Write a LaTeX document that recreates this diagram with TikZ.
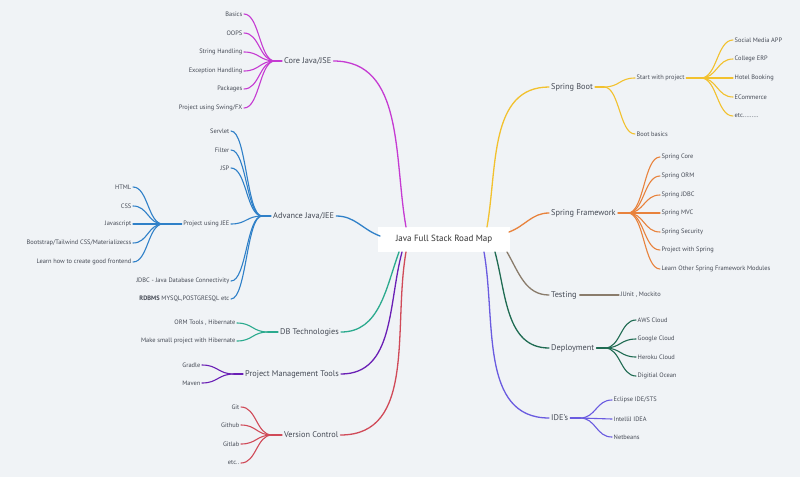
\documentclass[tikz,border=0pt]{standalone}
\usepackage{fontspec}
\setmainfont{PT Sans}
\usetikzlibrary{calc}
\definecolor{bg}{HTML}{F0F3F6}
\definecolor{tx}{HTML}{454A55}
\definecolor{cmag}{HTML}{C53AD2}
\definecolor{cblue}{HTML}{2F80C8}
\definecolor{cteal}{HTML}{2BAA8E}
\definecolor{cpur}{HTML}{6A1FB5}
\definecolor{cred}{HTML}{D04A58}
\definecolor{cyel}{HTML}{F2C12E}
\definecolor{cora}{HTML}{E8823C}
\definecolor{cbrn}{HTML}{8A7C6C}
\definecolor{cgrn}{HTML}{1F6B52}
\definecolor{cvio}{HTML}{6A5BE0}
\tikzset{
  leaf/.style={font=\fontsize{6.4}{7.5}\selectfont, text=tx, inner sep=1.5pt},
  mainn/.style={font=\fontsize{8.3}{9.5}\selectfont, text=tx, inner sep=2pt},
  br/.style={line width=1.1pt, line cap=round},
  mb/.style={line width=1.3pt, line cap=round},
  hc/.style={to path={let \p1=(\tikztostart), \p2=(\tikztotarget) in
     .. controls (\x1/2+\x2/2,\y1) and (\x1/2+\x2/2,\y2) .. (\tikztotarget)}},
}
\newcommand{\lleaf}[6]{% name, x(right end), y, text, hub, color
  \node[leaf,anchor=east] (#1) at (#2,#3) {#4};
  \draw[br,#6] (#1.east) to[hc] (#5);}
\newcommand{\rleaf}[6]{% name, x(left end), y, text, hub, color
  \node[leaf,anchor=west] (#1) at (#2,#3) {#4};
  \draw[br,#6] (#5) to[hc] (#1.west);}
\begin{document}
\begin{tikzpicture}[x=1pt,y=-1pt]
\useasboundingbox (0,0) rectangle (800,477);
\fill[bg] (0,0) rectangle (800,477);
% root
\node[fill=white, font=\fontsize{9}{11}\selectfont, text=black!80, minimum width=132pt, minimum height=25pt, inner sep=2pt] (root) at (444,239) {Java Full Stack Road Map};
\coordinate (rL1) at (406,227);
\coordinate (rL2) at (380,236);
\coordinate (rL3) at (399,252);
\coordinate (rL4) at (402,252);
\coordinate (rL5) at (406,252);
\coordinate (rR1) at (487,227);
\coordinate (rR2) at (509,232);
\coordinate (rR3) at (507,252);
\coordinate (rR4) at (495,252);
\coordinate (rR5) at (484,252);
% ===== Core Java
\node[mainn,anchor=west] (core) at (282,61) {Core Java/JSE};
\coordinate (hcore) at (275,61);
\draw[mb,cmag] (hcore) -- (core.west);
\draw[mb,cmag] (core.east) to[out=0,in=100] (rL1);
\lleaf{c1}{244}{14}{Basics}{hcore}{cmag}
\lleaf{c2}{244}{33}{OOPS}{hcore}{cmag}
\lleaf{c3}{244}{52}{String Handling}{hcore}{cmag}
\lleaf{c4}{244}{71}{Exception Handling}{hcore}{cmag}
\lleaf{c5}{244}{89}{Packages}{hcore}{cmag}
\lleaf{c6}{244}{108}{Project using Swing/FX}{hcore}{cmag}
% ===== Advance Java
\node[mainn,anchor=west] (adv) at (271,216) {Advance Java/JEE};
\coordinate (hadv) at (262,216);
\draw[mb,cblue] (hadv) -- (adv.west);
\draw[mb,cblue] (adv.east) to[out=0,in=160] (rL2);
\lleaf{a1}{231}{131}{Servlet}{hadv}{cblue}
\lleaf{a2}{231}{150}{Filter}{hadv}{cblue}
\lleaf{a3}{231}{168}{JSP}{hadv}{cblue}
\lleaf{a4}{231}{224}{Project using JEE}{hadv}{cblue}
\lleaf{a5}{231}{281}{JDBC - Java Database Connectivity}{hadv}{cblue}
\lleaf{a6}{231}{299}{\textbf{RDBMS} MYSQL,POSTGRESQL etc}{hadv}{cblue}
\coordinate (hpj) at (163,224);
\draw[br,cblue] (hpj) -- (a4.west);
\lleaf{p1}{133}{187}{HTML}{hpj}{cblue}
\lleaf{p2}{133}{206}{CSS}{hpj}{cblue}
\lleaf{p3}{133}{224}{Javascript}{hpj}{cblue}
\lleaf{p4}{133}{243}{Bootstrap/Tailwind CSS/Materializecss}{hpj}{cblue}
\lleaf{p5}{133}{262}{Learn how to create good frontend}{hpj}{cblue}
% ===== DB
\node[mainn,anchor=west] (db) at (278,332) {DB Technologies};
\coordinate (hdb) at (268,332);
\draw[mb,cteal] (hdb) -- (db.west);
\draw[mb,cteal] (db.east) to[out=0,in=-110] (rL3);
\lleaf{d1}{237}{323}{ORM Tools , Hibernate}{hdb}{cteal}
\lleaf{d2}{237}{341}{Make small project with Hibernate}{hdb}{cteal}
% ===== PM tools
\node[mainn,anchor=west] (pm) at (243,374) {Project Management Tools};
\coordinate (hpm) at (234,374);
\draw[mb,cpur] (hpm) -- (pm.west);
\draw[mb,cpur] (pm.east) to[out=0,in=-105] (rL4);
\lleaf{m1}{202}{365}{Gradle}{hpm}{cpur}
\lleaf{m2}{202}{383}{Maven}{hpm}{cpur}
% ===== Version control
\node[mainn,anchor=west] (vc) at (282,435) {Version Control};
\coordinate (hvc) at (272,435);
\draw[mb,cred] (hvc) -- (vc.west);
\draw[mb,cred] (vc.east) to[out=0,in=-100] (rL5);
\lleaf{v1}{241}{407}{Git}{hvc}{cred}
\lleaf{v2}{241}{425}{Github}{hvc}{cred}
\lleaf{v3}{241}{444}{Gitlab}{hvc}{cred}
\lleaf{v4}{241}{463}{etc..}{hvc}{cred}
% ===== Spring Boot
\node[mainn,anchor=west] (sb) at (549,87) {Spring Boot};
\coordinate (hsb) at (604,87);
\draw[mb,cyel] (rR1) to[out=80,in=180] (sb.west);
\draw[mb,cyel] (sb.east) -- (hsb);
\rleaf{s1}{635}{78}{Start with project}{hsb}{cyel}
\rleaf{s2}{635}{134}{Boot basics}{hsb}{cyel}
\coordinate (hsp) at (701,78);
\draw[br,cyel] (s1.east) -- (hsp);
\rleaf{q1}{733}{40}{Social Media APP}{hsp}{cyel}
\rleaf{q2}{733}{59}{College ERP}{hsp}{cyel}
\rleaf{q3}{733}{78}{Hotel Booking}{hsp}{cyel}
\rleaf{q4}{733}{97}{ECommerce}{hsp}{cyel}
\rleaf{q5}{733}{116}{etc.........}{hsp}{cyel}
% ===== Spring Framework
\node[mainn,anchor=west] (sf) at (549,213) {Spring Framework};
\coordinate (hsf) at (628,213);
\draw[mb,cora] (rR2) to[out=20,in=180] (sf.west);
\draw[mb,cora] (sf.east) -- (hsf);
\rleaf{f1}{660}{157}{Spring Core}{hsf}{cora}
\rleaf{f2}{660}{176}{Spring ORM}{hsf}{cora}
\rleaf{f3}{660}{195}{Spring JDBC}{hsf}{cora}
\rleaf{f4}{660}{213}{Spring MVC}{hsf}{cora}
\rleaf{f5}{660}{232}{Spring Security}{hsf}{cora}
\rleaf{f6}{660}{250}{Project with Spring}{hsf}{cora}
\rleaf{f7}{660}{269}{Learn Other Spring Framework Modules}{hsf}{cora}
% ===== Testing
\node[mainn,anchor=west] (ts) at (549,295) {Testing};
\draw[mb,cbrn] (rR3) to[out=-60,in=180] (ts.west);
\node[leaf,anchor=west] (ju) at (619,295) {JUnit , Mockito};
\draw[br,cbrn] ($(ts.east)+(1,0)$) -- (ju.west);
% ===== Deployment
\node[mainn,anchor=west] (dp) at (549,348) {Deployment};
\coordinate (hdp) at (605,348);
\draw[mb,cgrn] (rR4) to[out=-75,in=180] (dp.west);
\draw[mb,cgrn] (dp.east) -- (hdp);
\rleaf{e1}{636}{320}{AWS Cloud}{hdp}{cgrn}
\rleaf{e2}{636}{339}{Google Cloud}{hdp}{cgrn}
\rleaf{e3}{636}{357}{Heroku Cloud}{hdp}{cgrn}
\rleaf{e4}{636}{376}{Digitial Ocean}{hdp}{cgrn}
% ===== IDE
\node[mainn,anchor=west] (ide) at (549,418) {IDE's};
\coordinate (hide) at (580,418);
\draw[mb,cvio] (rR5) to[out=-80,in=180] (ide.west);
\draw[mb,cvio] (ide.east) -- (hide);
\rleaf{i1}{612}{400}{Eclipse IDE/STS}{hide}{cvio}
\rleaf{i2}{612}{419}{IntelliJ IDEA}{hide}{cvio}
\rleaf{i3}{612}{437}{Netbeans}{hide}{cvio}
\end{tikzpicture}
\end{document}
